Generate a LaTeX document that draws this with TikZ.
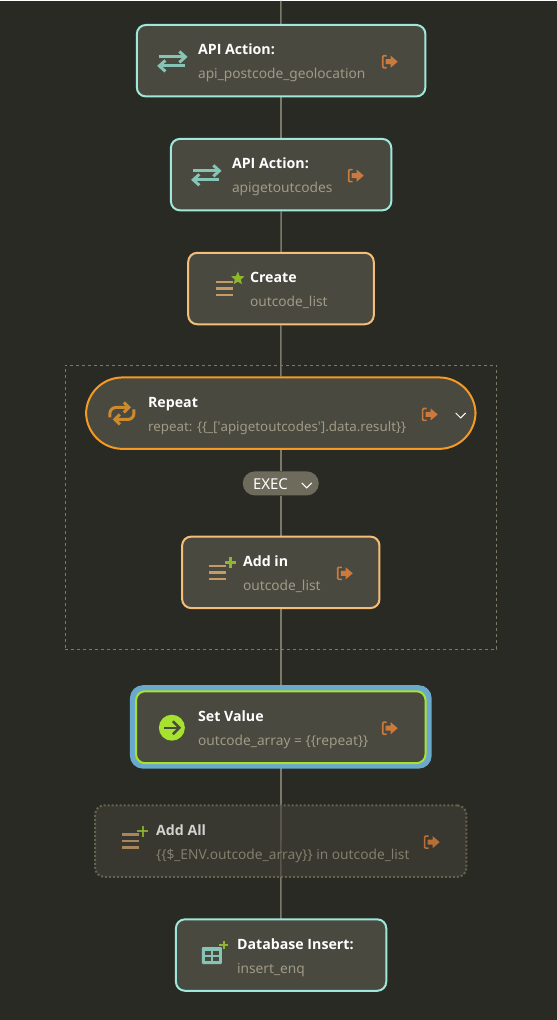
\documentclass[tikz,border=0pt]{standalone}
\usepackage{fontspec}
\setmainfont{Noto Sans}
\newfontfamily\ttlfont{Open Sans}
\usetikzlibrary{shapes.geometric,arrows.meta,backgrounds}
\definecolor{pagebg}{HTML}{2A2A24}
\definecolor{cardbg}{HTML}{4A4940}
\definecolor{flowln}{HTML}{7D796A}
\definecolor{tealbd}{HTML}{9DE8DB}
\definecolor{tealic}{HTML}{86C4B6}
\definecolor{sandbd}{HTML}{F5BE78}
\definecolor{sandic}{HTML}{C49A66}
\definecolor{loopbd}{HTML}{F59A23}
\definecolor{loopic}{HTML}{CC8A2E}
\definecolor{exitic}{HTML}{CC7A3C}
\definecolor{limegr}{HTML}{A6E22E}
\definecolor{plusgr}{HTML}{8DB82E}
\definecolor{glowbl}{HTML}{6AA9CC}
\definecolor{subtxt}{HTML}{A09A86}
\definecolor{pillbg}{HTML}{6F6B5C}
\definecolor{dimbd}{HTML}{66634F}
\begin{document}
\begin{tikzpicture}[x=1pt,y=-1pt,
  cardbox/.style={draw,line width=2pt,rounded corners=9pt,fill=cardbg,minimum height=71.5pt,inner sep=0pt},
  ttl/.style={anchor=base west,inner sep=0pt,text=white,font=\ttlfont\fontsize{14.2}{16}\selectfont\bfseries},
  sub/.style={anchor=base west,inner sep=0pt,text=subtxt,font=\fontsize{13.75}{16}\selectfont},
  link/.style={draw=flowln,line width=1.5pt},
  exiticon/.pic={
    \draw[exitic,line width=1.6pt,rounded corners=1pt] (-3,-6) -- (-7,-6) -- (-7,6) -- (-3,6);
    \fill[exitic] (-4,-2.5) -- (1,-2.5) -- (1,-6) -- (8,0) -- (1,6) -- (1,2.5) -- (-4,2.5) -- cycle;},
  swapicon/.pic={
    \draw[tealic,line width=3pt] (-13,-4.5) -- (12,-4.5);
    \draw[tealic,line width=3pt] (7,-10) -- (13,-4.5) -- (7,1);
    \draw[tealic,line width=3pt] (13,4.5) -- (-12,4.5);
    \draw[tealic,line width=3pt] (-7,-1) -- (-13,4.5) -- (-7,10);},
  listicon/.pic={
    \draw[sandic,line width=2.6pt] (-8.5,-6.5) -- (8.5,-6.5);
    \draw[sandic,line width=2.6pt] (-8.5,0) -- (8.5,0);
    \draw[sandic,line width=2.6pt] (-8.5,6.5) -- (8.5,6.5);},
  plusicon/.pic={
    \draw[plusgr,line width=2.4pt] (-5.5,0) -- (5.5,0);
    \draw[plusgr,line width=2.4pt] (0,-5.5) -- (0,5.5);},
  chevicon/.pic={
    \draw[white,line width=1pt] (-5,-2.5) -- (0,2.5) -- (5,-2.5);},
  loopicon/.pic={
    \draw[loopic,line width=3pt,rounded corners=6pt] (-12,4) -- (-12,-6) -- (6,-6);
    \draw[loopic,line width=3pt] (2,-11) -- (7,-6) -- (2,-1);
    \draw[loopic,line width=3pt,rounded corners=6pt] (12,-4) -- (12,6) -- (-6,6);
    \draw[loopic,line width=3pt] (-2,1) -- (-7,6) -- (-2,11);}]
\node[draw=flowln,dashed,line width=0.8pt,minimum width=432pt,minimum height=284pt,inner sep=0pt] (loopframe) at (281,507) {};
\coordinate (top) at (281,0);
\node[cardbox,draw=tealbd,minimum width=288.7pt] (apione) at (281.3,60) {};
\node[cardbox,draw=tealbd,minimum width=220.5pt] (apitwo) at (281.3,174) {};
\node[cardbox,draw=sandbd,minimum width=185.7pt] (create) at (281.2,288) {};
\node[cardbox,draw=loopbd,rounded corners=36.5pt,minimum width=389.7pt] (repeat) at (281,412.7) {};
\node[fill=pillbg,rounded corners=11.9pt,minimum width=76pt,minimum height=24pt,inner sep=0pt] (exec) at (281,483) {};
\node[cardbox,draw=sandbd,minimum width=197.5pt] (addin) at (281,572) {};
\node[fill=glowbl,rounded corners=13pt,minimum width=302pt,minimum height=83.5pt,inner sep=0pt] (setglow) at (281,726.7) {};
\node[cardbox,draw=limegr,minimum width=289.7pt,minimum height=72pt] (setval) at (281,727) {};
\node[cardbox,draw=dimbd,dotted,fill=cardbg!75!pagebg,fill opacity=0.6,minimum width=371.5pt] (addall) at (281,841) {};
\node[cardbox,draw=tealbd,minimum width=210.5pt] (dbins) at (281.3,955) {};
\begin{scope}[on background layer]
\fill[pagebg] (0,0) rectangle (557,1020);
\draw[link] (top) -- (apione);
\draw[link] (apione) -- (apitwo);
\draw[link] (apitwo) -- (create);
\draw[link] (create) -- (repeat);
\draw[link] (repeat) -- (exec);
\draw[link] (exec) -- (addin);
\draw[link] (addin) -- (setval);
\draw[link] (setval.center) -- (addall.center);
\draw[link] (addall.center) -- (dbins.center);
\end{scope}
\pic at (172.5,60.7) {swapicon};
\node[ttl] (apioneT) at (198,54) {API Action:};
\node[sub] (apioneS) at (198,78) {api\_postcode\_geolocation};
\pic at (390,61) {exiticon};
\pic at (206.5,174.7) {swapicon};
\node[ttl] (apitwoT) at (232,168) {API Action:};
\node[sub] (apitwoS) at (232,192) {apigetoutcodes};
\pic at (356,175) {exiticon};
\pic at (224.5,288) {listicon};
\node[star,star points=5,star point ratio=2.2,fill=plusgr,inner sep=0pt,minimum size=14pt] (createstar) at (238,278) {};
\node[ttl] (createT) at (250,282) {Create};
\node[sub] (createS) at (250,306) {outcode\_list};
\pic at (122,413) {loopicon};
\node[ttl] (repeatT) at (148,407) {Repeat};
\node[sub,font=\fontsize{13.35}{16}\selectfont] (repeatS) at (148,431) {repeat: \{\{\_[\textquotesingle apigetoutcodes\textquotesingle].data.result\}\}};
\pic at (430,414) {exiticon};
\pic at (461,415) {chevicon};
\node[text=white,inner sep=0pt,anchor=base west,font=\fontsize{15}{16}\selectfont] (execT) at (253,489) {EXEC};
\pic at (307,485) {chevicon};
\pic at (218,572) {listicon};
\pic at (230.5,562) {plusicon};
\node[ttl] (addinT) at (243,566) {Add in};
\node[sub] (addinS) at (243,590) {outcode\_list};
\pic at (345,573) {exiticon};
\node[circle,fill=limegr,minimum size=26pt,inner sep=0pt] (setdot) at (172,727.5) {};
\draw[cardbg,line width=2.4pt] (164,727.5) -- (179,727.5);
\draw[cardbg,line width=2.4pt] (173,721) -- (179.5,727.5) -- (173,734);
\node[ttl] (setvalT) at (198,721) {Set Value};
\node[sub] (setvalS) at (198,745.5) {outcode\_array = \{\{repeat\}\}};
\pic at (390,728) {exiticon};
\pic[opacity=0.8] at (130.5,841) {listicon};
\pic[opacity=0.85] at (143,831) {plusicon};
\node[ttl,text=white!75!cardbg] (addallT) at (156,835) {Add All};
\node[sub,text=subtxt!75!pagebg] (addallS) at (156,859) {\{\{\$\_ENV.outcode\_array\}\} in outcode\_list};
\pic[opacity=0.85] at (432,842) {exiticon};
\fill[tealic,rounded corners=1pt] (202,947) rectangle (222,964);
\fill[cardbg] (205,950.5) rectangle (211,954.5);
\fill[cardbg] (213.5,950.5) rectangle (219,954.5);
\fill[cardbg] (205,957) rectangle (211,961);
\fill[cardbg] (213.5,957) rectangle (219,961);
\pic[scale=0.8] at (224,945) {plusicon};
\node[ttl] (dbinsT) at (237,949) {Database Insert:};
\node[sub] (dbinsS) at (237,973) {insert\_enq};
\end{tikzpicture}
\end{document}
